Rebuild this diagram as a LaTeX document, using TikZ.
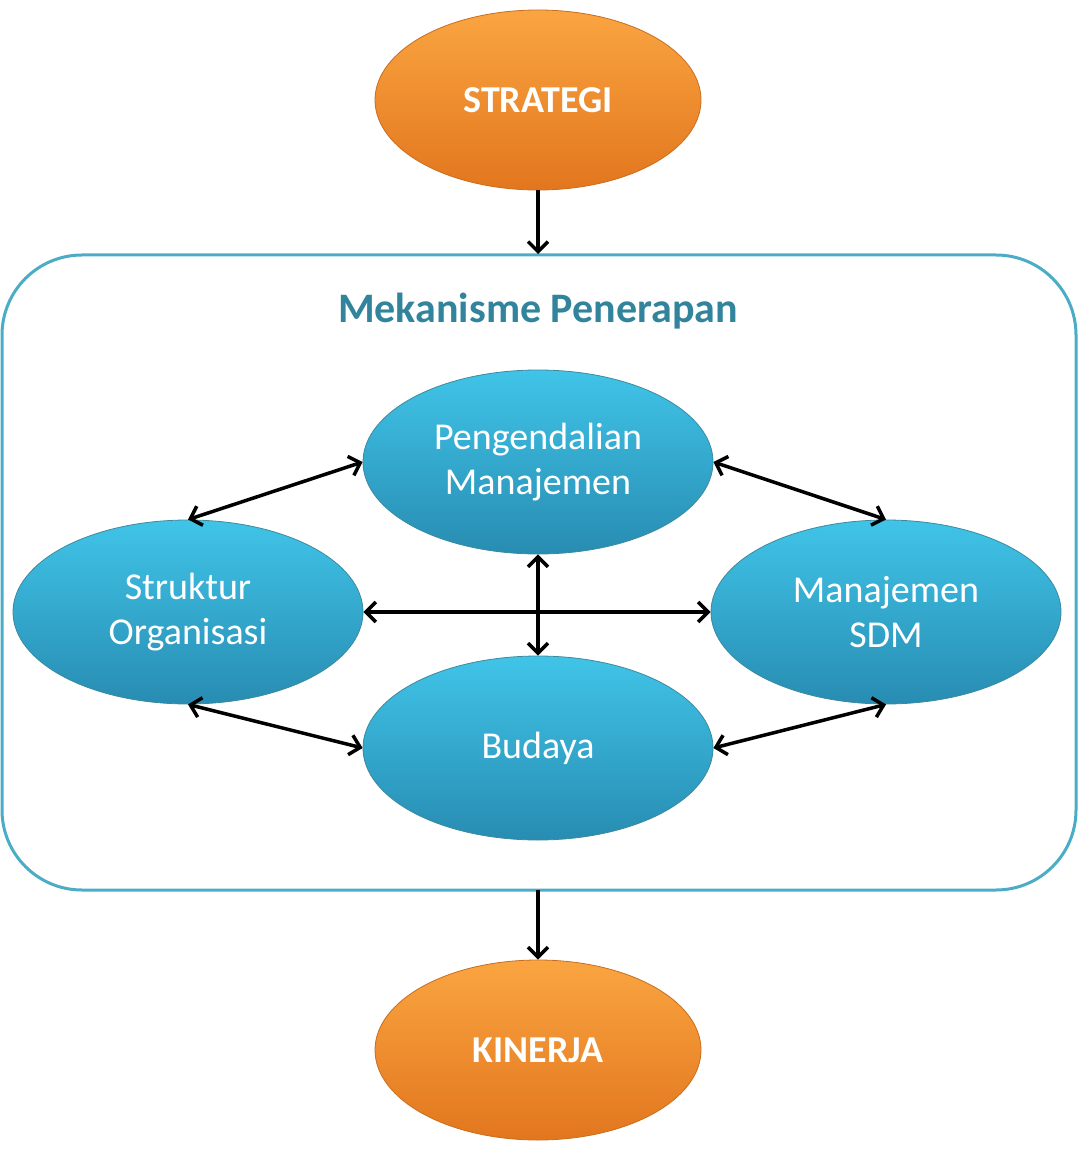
\documentclass[tikz,border=0pt]{standalone}
\usepackage{fontspec}
\setmainfont{Carlito}
\usetikzlibrary{shapes.geometric,arrows.meta}
\definecolor{teal}{HTML}{31849B}
\definecolor{bframe}{HTML}{4BACC6}
\tikzset{
  blue/.style={ellipse,draw=bframe!80!black,line width=0.8pt,
    top color={rgb,255:red,64;green,196;blue,232},bottom color={rgb,255:red,40;green,140;blue,178},
    minimum width=350pt,minimum height=184pt,inner sep=0pt,text=white,
    font=\fontsize{38}{45}\selectfont,align=center},
  orange/.style={ellipse,draw={rgb,255:red,200;green,110;blue,30},line width=0.8pt,
    top color={rgb,255:red,250;green,165;blue,65},bottom color={rgb,255:red,226;green,118;blue,30},
    minimum width=326pt,minimum height=180pt,inner sep=0pt,text=white,
    font=\fontsize{38}{45}\selectfont\bfseries},
  arr/.style={line width=3.5pt,{Straight Barb[length=10pt,width=20pt]}-{Straight Barb[length=10pt,width=20pt]}},
  sarr/.style={line width=3.5pt,-{Straight Barb[length=10pt,width=20pt]}}
}
\begin{document}
\begin{tikzpicture}[x=1pt,y=-1pt]
\useasboundingbox (0,0) rectangle (1078,1155);
\draw[draw=bframe,line width=3pt,rounded corners=80pt] (2,255) rectangle (1076,890);
\node[font=\fontsize{42}{48}\selectfont\bfseries,text=teal] (title) at (538,311) {Mekanisme Penerapan};
\node[orange] (S) at (538,100) {STRATEGI};
\node[orange] (K) at (538,1050) {KINERJA};
\node[blue] (P) at (538,462) {Pengendalian\\Manajemen};
\node[blue] (O) at (188,612) {Struktur\\Organisasi};
\node[blue] (M) at (886,612) {Manajemen\\SDM};
\node[blue] (B) at (538,748) {Budaya};
\coordinate (boxtop) at (538,254);
\coordinate (boxbot) at (538,890);
\draw[sarr] (S.south) -- (boxtop);
\draw[sarr] (boxbot) -- (K.north);
\draw[arr] (P.west) -- (O.north);
\draw[arr] (P.east) -- (M.north);
\draw[arr] (O.south) -- (B.west);
\draw[arr] (B.east) -- (M.south);
\draw[arr] (O.east) -- (M.west);
\draw[arr] (P.south) -- (B.north);
\end{tikzpicture}
\end{document}
